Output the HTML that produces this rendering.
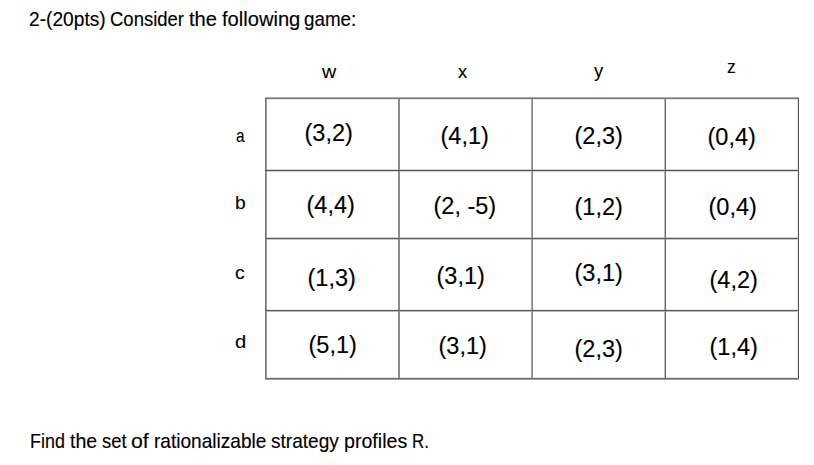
<!DOCTYPE html>
<html><head><meta charset="utf-8"><style>
html,body{margin:0;padding:0;background:#fff;}
body{width:814px;height:465px;position:relative;overflow:hidden;font-family:"Liberation Sans",sans-serif;color:#000;}
.l{position:absolute;}
.ns{-webkit-text-stroke:0.1px #000 !important;}
.cs{-webkit-text-stroke:0.15px #000 !important;}
.t{position:absolute;white-space:pre;line-height:1;-webkit-text-stroke:0.15px #000;transform-origin:0 0;}
</style></head><body>
<div class="l" style="left:265px;top:169px;width:534px;height:1px;background:#d4d4d4"></div>
<div class="l" style="left:265px;top:171px;width:534px;height:1px;background:#d4d4d4"></div>
<div class="l" style="left:265px;top:237px;width:534px;height:1px;background:#d0d0d0"></div>
<div class="l" style="left:265px;top:239px;width:534px;height:1px;background:#c8c8c8"></div>
<div class="l" style="left:265px;top:309px;width:534px;height:1px;background:#ececec"></div>
<div class="l" style="left:265px;top:311px;width:534px;height:1px;background:#b8b8b8"></div>
<div class="l" style="left:265px;top:99px;width:534px;height:1px;background:#e8e8e8"></div>
<div class="l" style="left:265px;top:377px;width:534px;height:1px;background:#e8e8e8"></div>
<div class="l" style="left:265px;top:97px;width:1px;height:283px;background:#7a7a7a"></div>
<div class="l" style="left:266px;top:97px;width:1px;height:283px;background:#9a9a9a"></div>
<div class="l" style="left:398px;top:97px;width:1px;height:283px;background:#8c8c8c"></div>
<div class="l" style="left:399px;top:97px;width:1px;height:283px;background:#8c8c8c"></div>
<div class="l" style="left:531px;top:97px;width:1px;height:283px;background:#a5a5a5"></div>
<div class="l" style="left:532px;top:97px;width:1px;height:283px;background:#8a8a8a"></div>
<div class="l" style="left:664px;top:97px;width:1px;height:283px;background:#bbbbbb"></div>
<div class="l" style="left:665px;top:97px;width:1px;height:283px;background:#6a6a6a"></div>
<div class="l" style="left:797px;top:97px;width:1px;height:283px;background:#e5e5e5"></div>
<div class="l" style="left:798px;top:97px;width:1px;height:283px;background:#555555"></div>
<div class="l" style="left:265px;top:97px;width:534px;height:1px;background:#aaaaaa"></div>
<div class="l" style="left:265px;top:98px;width:534px;height:1px;background:#7a7a7a"></div>
<div class="l" style="left:265px;top:170px;width:534px;height:1px;background:#555555"></div>
<div class="l" style="left:265px;top:238px;width:534px;height:1px;background:#606060"></div>
<div class="l" style="left:265px;top:310px;width:534px;height:1px;background:#5a5a5a"></div>
<div class="l" style="left:265px;top:378px;width:534px;height:1px;background:#6a6a6a"></div>
<div class="l" style="left:265px;top:379px;width:534px;height:1px;background:#a0a0a0"></div>
<div class="t " style="left:28.83px;top:10px;font-size:19.8px;transform:scaleX(0.9688)">2-(20pts)</div>
<div class="t " style="left:109.97px;top:10px;font-size:19.8px;transform:scaleX(0.9346)">Consider</div>
<div class="t " style="left:188.70px;top:10px;font-size:19.8px;transform:scaleX(1.0185)">the</div>
<div class="t " style="left:221.70px;top:10px;font-size:19.8px;transform:scaleX(1.0171)">following</div>
<div class="t " style="left:303.65px;top:10px;font-size:19.8px;transform:scaleX(0.9509)">game:</div>
<div class="t ns" style="left:322.10px;top:61.5px;font-size:19px;transform:scaleX(1.0357)">w</div>
<div class="t ns" style="left:458.10px;top:61.5px;font-size:19px;transform:scaleX(0.9667)">x</div>
<div class="t ns" style="left:594.00px;top:61px;font-size:19px;transform:scaleX(0.9700)">y</div>
<div class="t ns" style="left:727.38px;top:57px;font-size:19px;transform:scaleX(0.9250)">z</div>
<div class="t ns" style="left:235.79px;top:126px;font-size:19px;transform:scaleX(0.8100)">a</div>
<div class="t ns" style="left:234.59px;top:192.5px;font-size:19px;transform:scaleX(1.0111)">b</div>
<div class="t ns" style="left:235.29px;top:262.5px;font-size:19px;transform:scaleX(1.0125)">c</div>
<div class="t ns" style="left:234.93px;top:331.5px;font-size:19px;transform:scaleX(1.0667)">d</div>
<div class="t cs" style="left:304.50px;top:121.8px;font-size:23.5px">(3,2)</div>
<div class="t cs" style="left:440.50px;top:124.8px;font-size:23.5px">(4,1)</div>
<div class="t cs" style="left:574.50px;top:124.8px;font-size:23.5px">(2,3)</div>
<div class="t cs" style="left:707.50px;top:125.8px;font-size:23.5px">(0,4)</div>
<div class="t cs" style="left:306.50px;top:193.8px;font-size:23.5px">(4,4)</div>
<div class="t cs" style="left:433.50px;top:194.8px;font-size:23.5px">(2, -5)</div>
<div class="t cs" style="left:574.50px;top:195.8px;font-size:23.5px">(1,2)</div>
<div class="t cs" style="left:708.50px;top:195.8px;font-size:23.5px">(0,4)</div>
<div class="t cs" style="left:307.50px;top:266.8px;font-size:23.5px">(1,3)</div>
<div class="t cs" style="left:436.50px;top:264.8px;font-size:23.5px">(3,1)</div>
<div class="t cs" style="left:574.50px;top:261.8px;font-size:23.5px">(3,1)</div>
<div class="t cs" style="left:709.50px;top:268.8px;font-size:23.5px">(4,2)</div>
<div class="t cs" style="left:308.50px;top:333.8px;font-size:23.5px">(5,1)</div>
<div class="t cs" style="left:438.50px;top:334.8px;font-size:23.5px">(3,1)</div>
<div class="t cs" style="left:574.50px;top:337.8px;font-size:23.5px">(2,3)</div>
<div class="t cs" style="left:709.50px;top:335.8px;font-size:23.5px">(1,4)</div>
<div class="t " style="left:29.59px;top:432.2px;font-size:19.8px;transform:scaleX(0.9054)">Find</div>
<div class="t " style="left:70.10px;top:432.2px;font-size:19.8px;transform:scaleX(0.9889)">the</div>
<div class="t " style="left:101.67px;top:432.2px;font-size:19.8px;transform:scaleX(0.9346)">set</div>
<div class="t " style="left:131.43px;top:432.2px;font-size:19.8px;transform:scaleX(1.0750)">of</div>
<div class="t " style="left:153.94px;top:432.2px;font-size:19.8px;transform:scaleX(0.9643)">rationalizable</div>
<div class="t " style="left:270.94px;top:432.2px;font-size:19.8px;transform:scaleX(0.9643)">strategy</div>
<div class="t " style="left:344.01px;top:432.2px;font-size:19.8px;transform:scaleX(0.9919)">profiles</div>
<div class="t " style="left:412.05px;top:432.2px;font-size:19.8px;transform:scaleX(0.8529)">R.</div>
</body></html>
